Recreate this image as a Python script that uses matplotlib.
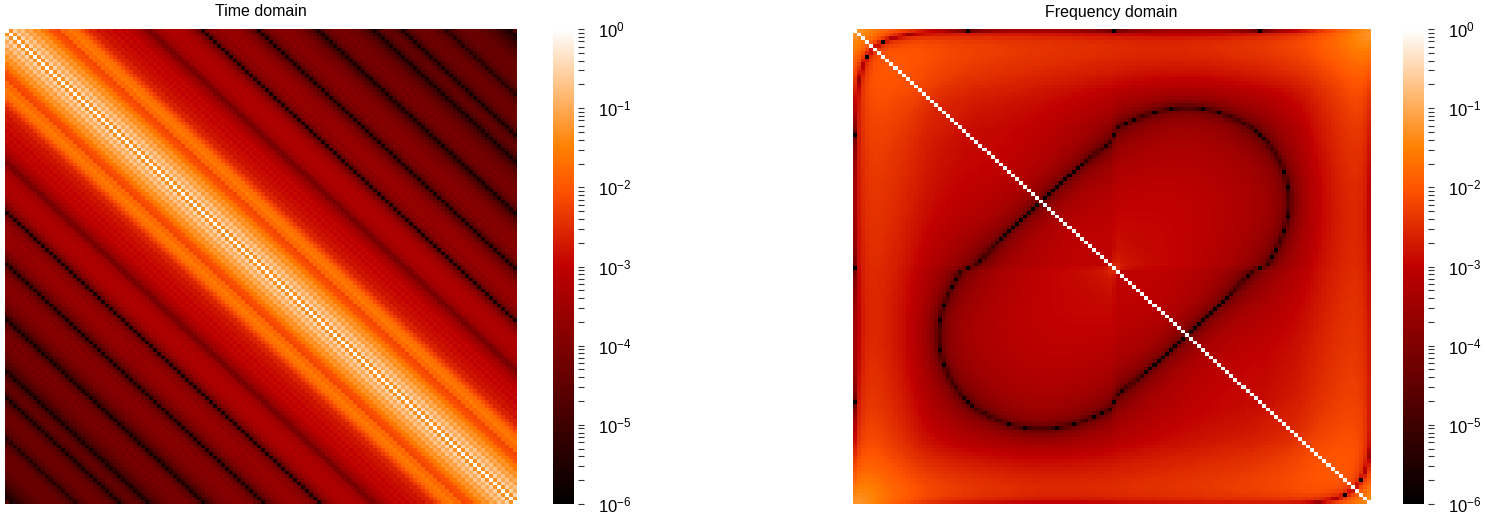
import numpy as np
import matplotlib
matplotlib.use("Agg")
import matplotlib.pyplot as plt
from matplotlib.colors import LogNorm
from matplotlib.ticker import LogLocator, NullFormatter

plt.rcParams['font.family'] = ['Liberation Sans', 'DejaVu Sans']
plt.rcParams['mathtext.fontset'] = 'custom'
plt.rcParams['mathtext.rm'] = 'Liberation Sans'
plt.rcParams['mathtext.it'] = 'Liberation Sans'
plt.rcParams['mathtext.default'] = 'regular'

N = 128
titles = ["Time domain", "Frequency domain"]

# log10 |c(m)| read along the first row of the time-domain matrix (offset m = 0..127)
corr_log = [0.0, -1.3, -0.5, -1.0, -0.7, -1.15, -1.0, -1.35, -1.25, -1.55,
            -1.65, -2.05, -2.1, -2.2, -1.75, -1.8, -1.55, -1.7, -1.75, -2.1,
            -2.3, -2.6, -2.6, -2.8, -2.75, -2.9, -2.85, -3.0, -2.9, -3.05,
            -2.95, -3.15, -3.2, -3.45, -3.6, -4.0, -4.1, -3.75, -3.45, -3.4,
            -3.25, -3.35, -3.2, -3.35, -3.3, -3.5, -3.6, -3.95, -4.3, -5.6,
            -4.3, -4.0, -3.75, -3.8, -3.6, -3.7, -3.6, -3.75, -3.7, -3.9,
            -4.0, -4.3, -4.6, -5.6, -4.6, -4.3, -4.0, -4.05, -3.85, -3.95,
            -3.85, -4.0, -3.95, -4.1, -4.15, -4.4, -4.6, -5.0, -5.6, -4.8,
            -4.4, -4.3, -4.1, -4.2, -4.05, -4.2, -4.15, -4.3, -4.35, -4.55,
            -4.75, -5.1, -5.6, -4.9, -4.6, -4.5, -4.4, -4.6, -4.9, -5.6,
            -4.9, -4.6, -4.4, -4.35, -4.25, -4.35, -4.3, -4.45, -4.55, -4.8,
            -5.4, -4.9, -4.6, -4.5, -4.35, -4.4, -4.3, -4.4, -4.35, -4.5,
            -4.55, -4.7, -4.8, -5.0, -5.2, -5.4, -5.6, -4.8]

# odd spectral profile H(k) = sum_n c(n) sin(2 pi k n / N), k = 0..64
# (estimated from the zero contours of the frequency-domain picture)
sine_profile = [0.0, 0.0085, 0.0115, 0.0145, 0.0175, 0.0205, 0.0233, 0.0262, 0.0290, 0.0318,
                0.0345, 0.0369, 0.0390, 0.0408, 0.0423, 0.0435, 0.0443, 0.0448, 0.0450, 0.0448,
                0.0443, 0.0435, 0.0423, 0.0408, 0.0390, 0.0369, 0.0345, 0.0318, 0.0289, 0.0258,
                0.0225, 0.0190, 0.0154, 0.0117, 0.0078, 0.0039, 0.0, -0.0042, -0.0090, -0.0144,
                -0.0205, -0.0272, -0.0345, -0.0425, -0.051, -0.061, -0.073, -0.088, -0.106, -0.127,
                -0.150, -0.176, -0.204, -0.234, -0.265, -0.297, -0.330, -0.360, -0.385, -0.400,
                -0.395, -0.360, -0.285, -0.165, 0.0]

# --- time domain: symmetric Toeplitz matrix of |c(|i-j|)| ---
c_abs = 10.0 ** np.array(corr_log)
idx = np.arange(N)
lag = np.abs(idx[None, :] - idx[:, None])
time_img = c_abs[lag]

# --- frequency domain: normalised DFT covariance, centred frequency order ---
h_half = np.array(sine_profile)
freqs = idx - N // 2                      # -64 .. 63
Hk = np.sign(freqs) * h_half[np.abs(freqs)]
dk = freqs[:, None] - freqs[None, :]
with np.errstate(divide='ignore', invalid='ignore'):
    freq_img = np.abs(Hk[:, None] - Hk[None, :]) / (N * np.abs(np.sin(np.pi * dk / N)))
freq_img[dk == 0] = 1.0

W, H_px = 1485, 513
fig = plt.figure(figsize=(W / 100, H_px / 100), dpi=100)
norm = LogNorm(vmin=1e-6, vmax=1)

panels = [(time_img, 5, 517, 553, 574), (freq_img, 853, 1370, 1403, 1424)]
top, bot = 29, 504
for k, (img, x0, x1, c0, c1) in enumerate(panels):
    ax = fig.add_axes([x0 / W, 1 - bot / H_px, (x1 - x0) / W, (bot - top) / H_px])
    im = ax.imshow(np.clip(img, 1e-6, 1), cmap='gist_heat', norm=norm,
                   aspect='auto', interpolation='nearest')
    ax.set_axis_off()
    ax.set_title(titles[k], fontsize=11.5, pad=9)
    cax = fig.add_axes([c0 / W, 1 - bot / H_px, (c1 - c0) / W, (bot - top) / H_px])
    cb = fig.colorbar(im, cax=cax)
    cb.outline.set_visible(False)
    cax.spines['right'].set_position(('outward', 3))
    cax.yaxis.set_major_locator(LogLocator(base=10, numticks=10))
    cax.yaxis.set_minor_locator(LogLocator(base=10, subs=np.arange(2, 10), numticks=10))
    cax.yaxis.set_minor_formatter(NullFormatter())
    cax.tick_params(which='both', length=4, width=0.8, color='#333333', labelsize=12, pad=10)

fig.savefig("out.png", dpi=100)
